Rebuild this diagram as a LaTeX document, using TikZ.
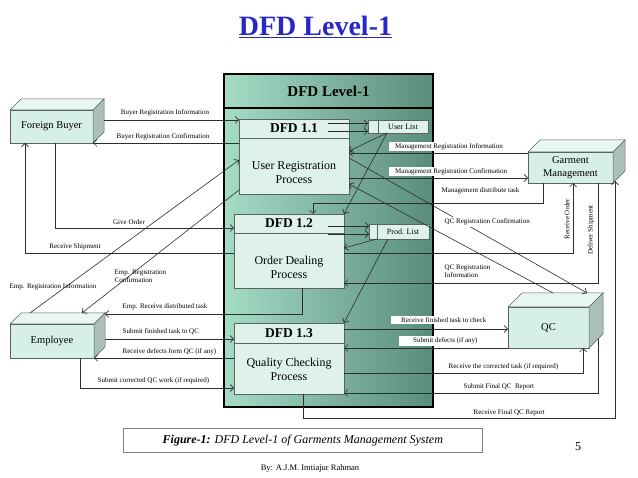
\documentclass[tikz,border=0pt]{standalone}
\usepackage{fontspec}
\setmainfont{Liberation Serif}
\usetikzlibrary{arrows.meta,calc}
\definecolor{boxfill}{RGB}{222,242,234}
\definecolor{entfront}{RGB}{214,240,230}
\definecolor{enttop}{RGB}{232,247,241}
\definecolor{entside}{RGB}{170,192,182}
\definecolor{dfdlight}{RGB}{165,220,198}
\definecolor{dfddark}{RGB}{90,140,122}
\definecolor{titleblue}{RGB}{40,40,200}
\definecolor{linec}{RGB}{45,45,45}
\definecolor{boxline}{RGB}{90,100,95}
\begin{document}
\begin{tikzpicture}[x=1pt,y=-1pt,
  arr/.style={draw=linec, line width=0.6pt, -{Straight Barb[length=3.5pt,width=7pt,line width=0.7pt]}},
  lbl/.style={font=\fontsize{7}{8}\selectfont, inner sep=0.5pt, text=black},
  wlbl/.style={lbl, fill=white, inner ysep=1.5pt},
  procbox/.style={draw=boxline, fill=boxfill, line width=0.6pt, inner sep=0pt, outer sep=0pt, anchor=north west},
  listbox/.style={draw=boxline, fill=boxfill, line width=0.5pt, inner sep=0pt, outer sep=0pt, anchor=north west},
  ent/.style={draw=boxline, fill=entfront, line width=0.5pt, inner sep=0pt, outer sep=0pt, anchor=north west, font=\fontsize{10.5}{12.5}\selectfont, align=center},
  entface/.style={draw=boxline, line width=0.5pt},
  hdtxt/.style={font=\fontsize{13.5}{15}\selectfont\bfseries, inner sep=1pt},
  bdtxt/.style={font=\fontsize{12}{14}\selectfont, align=center, inner sep=1pt},
  listtxt/.style={font=\fontsize{8}{9}\selectfont, inner sep=0pt}
]
\useasboundingbox (0,0) rectangle (638,478);
\fill[white] (0,0) rectangle (638,478);

% title
\node[font=\fontsize{28}{31}\selectfont\bfseries, text=titleblue] (title) at (315.5,27) {\underline{DFD Level-1}};

% big DFD box
\node[draw=black, line width=1.8pt, left color=dfdlight, right color=dfddark, minimum width=209pt, minimum height=333pt, inner sep=0pt, outer sep=0pt, anchor=north west] (dfd) at (224,74) {};
\draw[line width=1.5pt] (dfd.west |- 0,108) -- (dfd.east |- 0,108);
\node[font=\fontsize{15}{17}\selectfont\bfseries] (dfdhead) at (328.5,91) {DFD Level-1};

% processes
\node[procbox, minimum width=110pt, minimum height=75pt] (dfd11) at (239,119) {};
\draw[boxline, line width=0.6pt] (dfd11.west |- 0,138) -- (dfd11.east |- 0,138);
\node[hdtxt] (h11) at (294,128.5) {DFD 1.1};
\node[bdtxt] (b11) at (294,173) {User Registration\\Process};

\node[procbox, minimum width=110pt, minimum height=74pt] (dfd12) at (234,214) {};
\draw[boxline, line width=0.6pt] (dfd12.west |- 0,233) -- (dfd12.east |- 0,233);
\node[hdtxt] (h12) at (289,223.5) {DFD 1.2};
\node[bdtxt] (b12) at (289,267) {Order Dealing\\Process};

\node[procbox, minimum width=110pt, minimum height=71pt] (dfd13) at (234,323) {};
\draw[boxline, line width=0.6pt] (dfd13.west |- 0,343) -- (dfd13.east |- 0,343);
\node[hdtxt] (h13) at (289,333) {DFD 1.3};
\node[bdtxt] (b13) at (289,369) {Quality Checking\\Process};

% data stores
\node[listbox, minimum width=60pt, minimum height=13pt] (ul) at (368,120) {};
\draw[boxline, line width=0.5pt] (ul.north -| 378,0) -- (ul.south -| 378,0);
\node[listtxt] (ult) at (403,126.5) {User List};
\node[listbox, minimum width=60pt, minimum height=15pt] (pl) at (369,224) {};
\draw[boxline, line width=0.5pt] (pl.north -| 377,0) -- (pl.south -| 377,0);
\node[listtxt] (plt) at (403,231.5) {Prod. List};

% external entities
\node[ent, minimum width=83pt, minimum height=33pt] (fb) at (10,110) {Foreign Buyer};
\coordinate (fbtl) at ($(fb.north west)+(11,-11)$);
\coordinate (fbtr) at ($(fb.north east)+(11,-11)$);
\filldraw[entface, fill=enttop] (fb.north west) -- (fbtl) -- (fbtr) -- (fb.north east) -- cycle;
\filldraw[entface, fill=entside] (fb.north east) -- (fbtr) -- ($(fb.south east)+(11,-11)$) -- (fb.south east) -- cycle;

\node[ent, minimum width=84pt, minimum height=34pt] (emp) at (10,324) {Employee};
\coordinate (emptl) at ($(emp.north west)+(11,-11)$);
\coordinate (emptr) at ($(emp.north east)+(11,-11)$);
\filldraw[entface, fill=enttop] (emp.north west) -- (emptl) -- (emptr) -- (emp.north east) -- cycle;
\filldraw[entface, fill=entside] (emp.north east) -- (emptr) -- ($(emp.south east)+(11,-11)$) -- (emp.south east) -- cycle;

\node[ent, minimum width=85pt, minimum height=31pt] (gm) at (528,152) {Garment\\Management};
\coordinate (gmtl) at ($(gm.north west)+(12,-12)$);
\coordinate (gmtr) at ($(gm.north east)+(12,-12)$);
\filldraw[entface, fill=enttop] (gm.north west) -- (gmtl) -- (gmtr) -- (gm.north east) -- cycle;
\filldraw[entface, fill=entside] (gm.north east) -- (gmtr) -- ($(gm.south east)+(12,-12)$) -- (gm.south east) -- cycle;

\node[ent, minimum width=81pt, minimum height=41pt] (qc) at (508,307) {QC};
\coordinate (qctl) at ($(qc.north west)+(14,-14)$);
\coordinate (qctr) at ($(qc.north east)+(14,-14)$);
\filldraw[entface, fill=enttop] (qc.north west) -- (qctl) -- (qctr) -- (qc.north east) -- cycle;
\filldraw[entface, fill=entside] (qc.north east) -- (qctr) -- ($(qc.south east)+(14,-14)$) -- (qc.south east) -- cycle;

% ---- connectors ----
% Foreign Buyer
\draw[arr] (fbtr |- 0,120) -- (dfd11.west |- 0,120);
\draw[arr] (dfd11.west |- 0,143) -- (fb.east |- 0,143);
\draw[arr] (fb.south -| 55,0) |- (dfd12.west |- 0,228);
\draw[arr] (dfd12.west |- 0,253) -| (fb.south -| 25,0);
% Employee
\draw[arr] (emptl -| 30,0) -- (dfd11.west |- 0,160);
\draw[arr] (dfd11.west |- 0,190) -- (emptl -| 82,0);
\draw[arr] (dfd12.south -| 302,0) |- (emptr |- 0,314);
\draw[arr] (emptr |- 0,339) -- (dfd13.west |- 0,339);
\draw[arr] (dfd13.west |- 0,358) -- (emp.east |- 0,358);
\draw[arr] (emp.south -| 80,0) |- (dfd13.west |- 0,388);
% User list
\draw[arr] ($(dfd11.east |- 0,123.5)+(-21,0)$) -- (ul.west |- 0,123.5);
\draw[arr] ($(dfd11.east |- 0,131.5)+(-21,0)$) -- (ul.west |- 0,131.5);
\draw[arr] (ul.south -| 387,0) -- (dfd11.east |- 0,151);
\draw[arr] (ul.south -| 387,0) -- (dfd12.north east);
% Garment management
\draw[arr] (gm.west |- 0,153) -- (dfd11.east |- 0,153);
\draw[arr] (dfd11.east |- 0,178) -- (gm.west |- 0,178);
\draw[arr] (gm.south -| 543,0) -- (543,203) -- (313,203) -- (dfd12.north -| 313,0);
\draw[arr] (dfd12.east |- 0,253) -| (gm.south -| 573,0);
\draw[arr] (gm.south -| 598,0) |- (dfd12.east |- 0,283);
% QC registration
\draw[arr] (dfd11.east |- 0,158) -- (qctl -| 587,0);
\draw[arr] (qctl -| 553,0) -- (dfd11.east |- 0,184);
% Prod list
\draw[arr] ($(dfd12.east |- 0,226)+(-16,0)$) -- (pl.west |- 0,226);
\draw[arr] ($(dfd12.east |- 0,234)+(-16,0)$) -- (pl.west |- 0,234);
\draw[arr] (pl.south -| 377,0) -- (dfd12.east |- 0,248);
\draw[arr] (pl.south -| 388,0) -- (dfd13.north east);
% QC
\draw[arr] (dfd13.east |- 0,329) -- (qc.west |- 0,329);
\draw[arr] (qc.south west) -- (dfd13.east |- 0,348);
\draw[arr] (dfd13.east |- 0,373) -| (qc.south -| 583,0);
\draw[arr] ($(qc.south east)+(9,-9)$) |- (dfd13.east |- 0,393);
\draw[arr] (dfd13.south -| 303,0) -- (303,418) -- (615,418) -- ($(gm.south east)+(2,-2)$);

% ---- labels ----
\node[lbl] (l1) at (165,113) {Buyer Registration Information};
\node[lbl] (l2) at (163,137) {Buyer Registration Confirmation};
\node[lbl] (l3) at (129,222) {Give Order};
\node[lbl] (l4) at (75,247) {Receive Shipment};
\node[lbl, align=left, anchor=west] (l5) at (114,276.5) {Emp. Registration\\Confirmation};
\node[lbl, anchor=west] (l6) at (9,287) {Emp. Registration Information};
\node[lbl, anchor=west] (l7) at (122,307) {Emp. Receive distributed task};
\node[lbl, anchor=west] (l8) at (122,332) {Submit finished task to QC};
\node[lbl, anchor=west] (l9) at (122,352) {Receive defects form QC (if any)};
\node[lbl, anchor=west] (l10) at (97,381) {Submit corrected QC work (if required)};
\node[wlbl, anchor=west, inner xsep=6pt] (l11) at (389,146.5) {Management Registration Information};
\node[wlbl, anchor=west, inner xsep=6pt] (l12) at (389,171.5) {Management Registration Confirmation};
\node[lbl, anchor=west] (l13) at (441,191) {Management distribute task};
\node[wlbl, anchor=west] (l14) at (444,222) {QC Registration Confirmation};
\node[wlbl, anchor=west, align=left] (l15) at (444,271) {QC Registration\\Information};
\node[lbl, rotate=90] (l16) at (567,219) {Receive Order};
\node[lbl, rotate=90] (l17) at (591,230) {Deliver Shipment};
\node[wlbl, anchor=west, inner xsep=10pt] (l18) at (391,320.5) {Receive finished task to check};
\node[wlbl, anchor=west, inner xsep=14pt] (l19) at (399,341) {Submit defects (if any)};
\node[lbl, anchor=west] (l20) at (448,367) {Receive the corrected task (if required)};
\node[lbl, anchor=west] (l21) at (463,387) {Submit Final QC\ \ Report};
\node[lbl, anchor=west] (l22) at (473,412.5) {Receive Final QC Report};

% caption
\node[draw=gray, line width=0.6pt, minimum width=359pt, minimum height=24pt, inner sep=0pt, anchor=north west, font=\fontsize{12}{14}\selectfont\itshape] (cap) at (123,428) {\textbf{Figure-1:} DFD Level-1 of Garments Management System};
\node[font=\fontsize{12}{14}\selectfont] (pg) at (578,447) {5};
\node[font=\fontsize{8.5}{10}\selectfont] (by) at (310,468) {By: A.J.M. Imtiajur Rahman};
\end{tikzpicture}
\end{document}
